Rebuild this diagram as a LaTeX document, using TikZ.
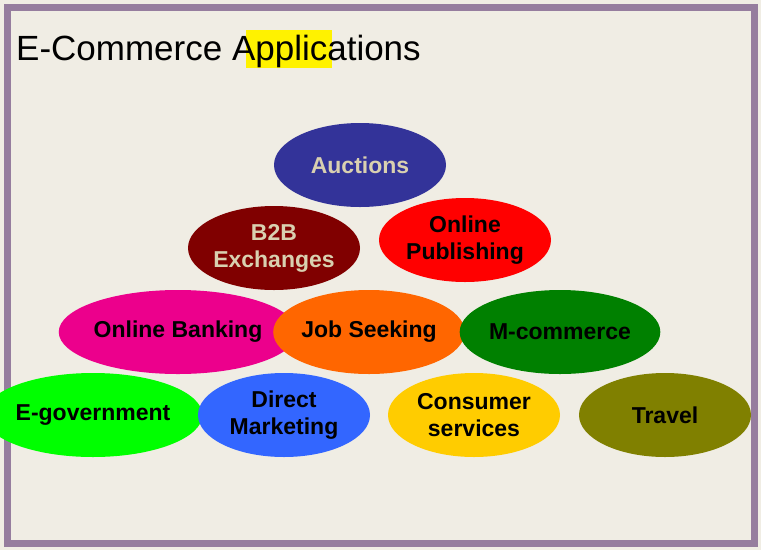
\documentclass[tikz,border=0pt]{standalone}
\usepackage{fontspec}
\setmainfont{Liberation Sans}
\begin{document}
\begin{tikzpicture}[x=1pt,y=-1pt,
  el/.style={ellipse,minimum width=172pt,minimum height=84pt,inner sep=0pt,align=center,font=\fontsize{23}{27}\selectfont\bfseries},
  ]
\usetikzlibrary{shapes.geometric}
\useasboundingbox (0,0) rectangle (761,550);
\fill[white!80!black!0, fill={rgb,255:red,240;green,237;blue,228}] (0,0) rectangle (761,550);
\draw[line width=7pt, draw={rgb,255:red,150;green,125;blue,158}] (7,7) rectangle (754,543);
\fill[yellow] (246,30) rectangle (332,68);
\node[anchor=base west,inner sep=0pt,font=\fontsize{35}{40}\selectfont] (title) at (16,60) {E-Commerce Applications};
\definecolor{tan}{RGB}{217,208,176}
\node[el,fill={rgb,255:red,51;green,51;blue,153},text=tan] (auc) at (360,165) {Auctions};
\node[el,fill={rgb,255:red,128;green,0;blue,0},text=tan] (b2b) at (274,248) {B2B\\Exchanges};
\node[el,fill=red] (pub) at (465,240) {Online\\Publishing};
\node[el,fill=magenta] (bank) at (178,332) {Online Banking};
\node[el,fill={rgb,255:red,255;green,102;blue,0}] (job) at (369,332) {Job Seeking};
\node[el,fill={rgb,255:red,0;green,128;blue,0}] (m) at (560,332) {M-commerce};
\node[el,fill={rgb,255:red,0;green,255;blue,0}] (egov) at (93,415) {E-government};
\node[el,fill={rgb,255:red,51;green,102;blue,255}] (dm) at (284,415) {Direct\\Marketing};
\node[el,fill={rgb,255:red,255;green,204;blue,0}] (cs) at (474,415) {Consumer\\services};
\node[el,fill={rgb,255:red,128;green,128;blue,0}] (tr) at (665,415) {Travel};
\end{tikzpicture}
\end{document}
